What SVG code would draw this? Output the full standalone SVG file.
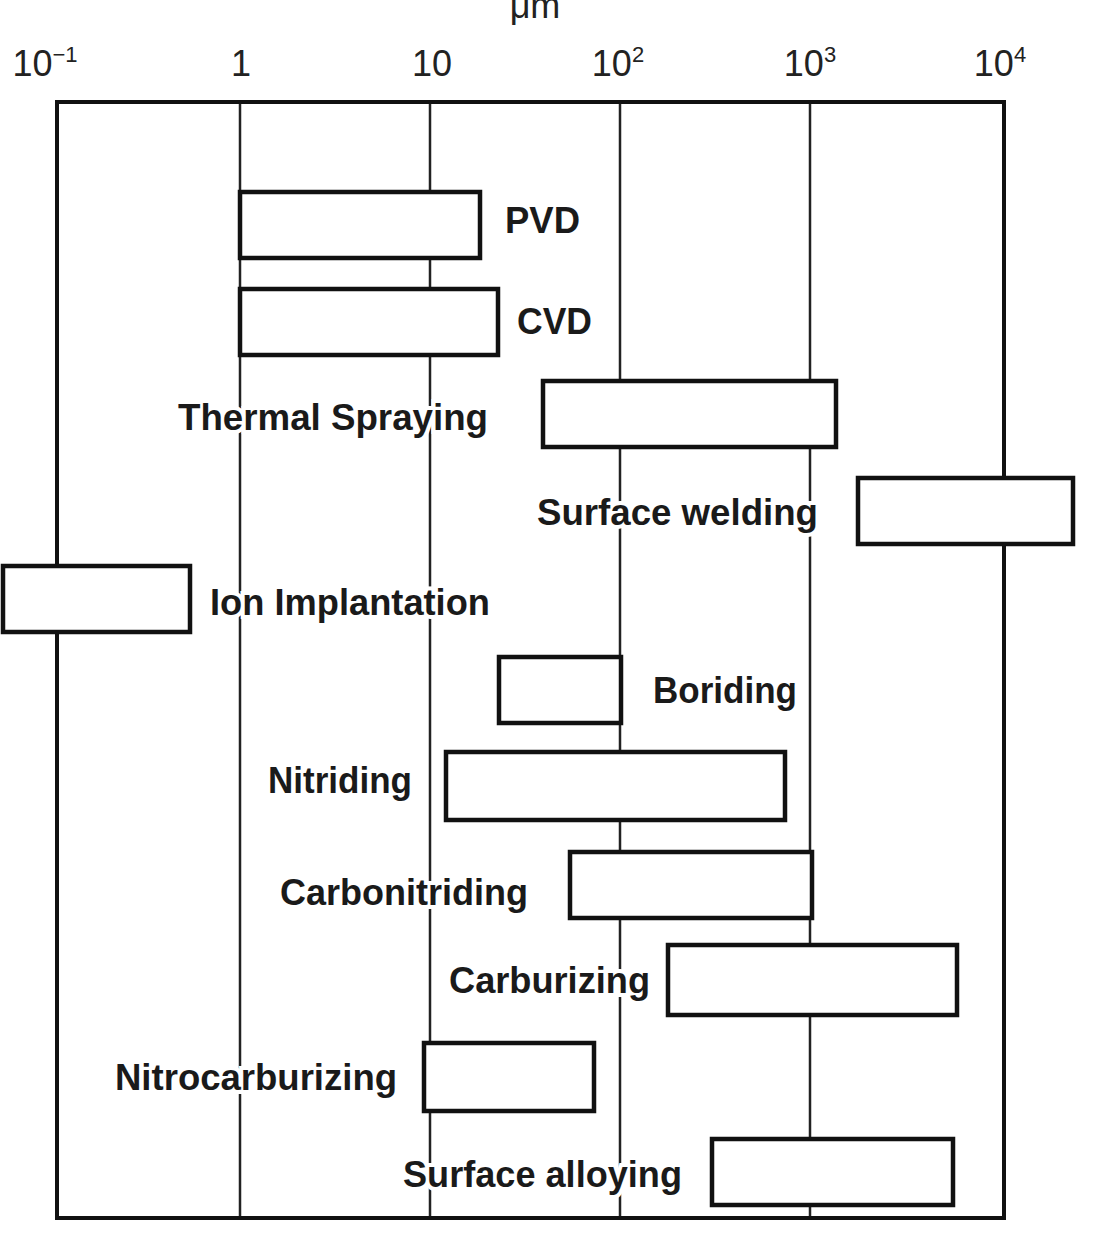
<svg xmlns="http://www.w3.org/2000/svg" width="1093" height="1233" viewBox="0 0 1093 1233">
<style>
.g{stroke:#222;stroke-width:2.5;fill:none}
.f{stroke:#111;stroke-width:4;fill:none}
.b{stroke:#111;stroke-width:4.5;fill:#fff}
.t{font-family:"Liberation Sans",Arial,sans-serif;font-weight:bold;font-size:36px;fill:#1a1a1a;paint-order:stroke;stroke:#fff;stroke-width:8px}
.a{font-family:"Liberation Sans",Arial,sans-serif;font-size:36px;fill:#222}
</style>
<rect width="1093" height="1233" fill="#fff"/>
<g id="axis">
<text class="a" x="535" y="18" text-anchor="middle" font-size="22">μm</text>
<text class="a" x="45" y="76" text-anchor="middle">10<tspan font-size="22" dy="-14">−1</tspan></text>
<text class="a" x="241" y="76" text-anchor="middle">1</text>
<text class="a" x="432" y="76" text-anchor="middle">10</text>
<text class="a" x="618" y="76" text-anchor="middle">10<tspan font-size="22" dy="-14">2</tspan></text>
<text class="a" x="810" y="76" text-anchor="middle">10<tspan font-size="22" dy="-14">3</tspan></text>
<text class="a" x="1000" y="76" text-anchor="middle">10<tspan font-size="22" dy="-14">4</tspan></text>
<line class="g" x1="240" y1="102" x2="240" y2="1218"/>
<line class="g" x1="430" y1="102" x2="430" y2="1218"/>
<line class="g" x1="620" y1="102" x2="620" y2="1218"/>
<line class="g" x1="810" y1="102" x2="810" y2="1218"/>
<rect class="f" x="57" y="102" width="947" height="1116"/>
</g>
<g id="bars">
<g id="pvd"><rect class="b" x="240" y="192" width="240" height="66"/><text class="t" x="505" y="233" textLength="75" lengthAdjust="spacingAndGlyphs">PVD</text></g>
<g id="cvd"><rect class="b" x="240" y="289" width="258" height="66"/><text class="t" x="517" y="334" textLength="75" lengthAdjust="spacingAndGlyphs">CVD</text></g>
<g id="thermal"><rect class="b" x="543" y="381" width="293" height="66"/><text class="t" x="178" y="430" textLength="310" lengthAdjust="spacingAndGlyphs">Thermal Spraying</text></g>
<g id="welding"><rect class="b" x="858" y="478" width="215" height="66"/><text class="t" x="537" y="525" textLength="281" lengthAdjust="spacingAndGlyphs">Surface welding</text></g>
<g id="ion"><rect class="b" x="3" y="566" width="187" height="66"/><text class="t" x="210" y="615" textLength="280" lengthAdjust="spacingAndGlyphs">Ion Implantation</text></g>
<g id="boriding"><rect class="b" x="499" y="657" width="122" height="66"/><text class="t" x="653" y="703" textLength="144" lengthAdjust="spacingAndGlyphs">Boriding</text></g>
<g id="nitriding"><rect class="b" x="446" y="752" width="339" height="68"/><text class="t" x="268" y="793" textLength="144" lengthAdjust="spacingAndGlyphs">Nitriding</text></g>
<g id="carbonitriding"><rect class="b" x="570" y="852" width="242" height="66"/><text class="t" x="280" y="905" textLength="248" lengthAdjust="spacingAndGlyphs">Carbonitriding</text></g>
<g id="carburizing"><rect class="b" x="668" y="945" width="289" height="70"/><text class="t" x="449" y="993" textLength="201" lengthAdjust="spacingAndGlyphs">Carburizing</text></g>
<g id="nitrocarburizing"><rect class="b" x="424" y="1043" width="170" height="68"/><text class="t" x="115" y="1090" textLength="282" lengthAdjust="spacingAndGlyphs">Nitrocarburizing</text></g>
<g id="alloying"><rect class="b" x="712" y="1139" width="241" height="66"/><text class="t" x="403" y="1187" textLength="279" lengthAdjust="spacingAndGlyphs">Surface alloying</text></g>
</g>
</svg>
